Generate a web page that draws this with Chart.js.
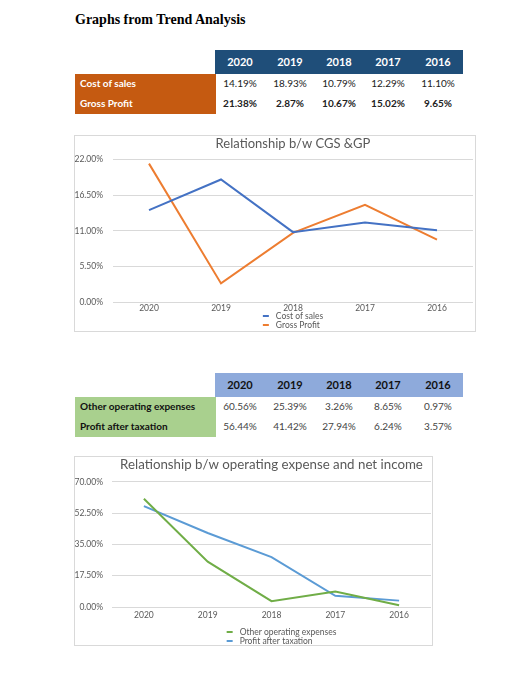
<!DOCTYPE html>
<html>
<head>
<meta charset="utf-8">
<script src="https://cdn.jsdelivr.net/npm/chart.js@4.4.1/dist/chart.umd.min.js"></script>
<style>
body { margin: 0; background: #fff; font-family: Lato, sans-serif; }
#page { position: relative; width: 517px; height: 700px; overflow: hidden; }
.abs { position: absolute; white-space: nowrap; }
.frame { position: absolute; border: 1px solid #d9d9d9; background: #fff; }
.frame canvas { display: block; }
</style>
</head>
<body>
<div id="page">
  <div class="abs" style="left:75px;top:13px;font:bold 14px 'Liberation Serif';line-height:14px;color:#000">Graphs from Trend Analysis</div>
  <div class="frame" style="left:74px;top:135px;width:400px;height:195px">
    <canvas id="chart1" width="400" height="195" style="width:400px;height:195px"></canvas>
  </div>
  <div class="frame" style="left:74px;top:456px;width:357px;height:188px">
    <canvas id="chart2" width="357" height="188" style="width:357px;height:188px"></canvas>
  </div>
</div>
<script>
// data
const years = ['2020', '2019', '2018', '2017', '2016'];
const costOfSales = [14.19, 18.93, 10.79, 12.29, 11.10];
const grossProfit = [21.38, 2.87, 10.67, 15.02, 9.65];
const otherOpExpenses = [60.56, 25.39, 3.26, 8.65, 0.97];
const profitAfterTax = [56.44, 41.42, 27.94, 6.24, 3.57];
const yTicks1 = [0, 5.5, 11, 16.5, 22];
const yTicks2 = [0, 17.5, 35, 52.5, 70];

const page = document.getElementById('page');
const colX = [240, 290, 339, 388, 438];

function addText(txt, cx, cy, style, align) {
  const d = document.createElement('div');
  d.className = 'abs';
  d.textContent = txt;
  d.style.top = (cy - 7) + 'px';
  d.style.height = '14px';
  d.style.lineHeight = '14px';
  if (align === 'left') {
    d.style.left = cx + 'px';
  } else {
    d.style.left = (cx - 30) + 'px';
    d.style.width = '60px';
    d.style.textAlign = 'center';
  }
  Object.assign(d.style, style);
  page.appendChild(d);
}

function addRect(x, y, w, h, color) {
  const d = document.createElement('div');
  d.className = 'abs';
  Object.assign(d.style, { left: x + 'px', top: y + 'px', width: w + 'px', height: h + 'px', background: color });
  page.appendChild(d);
}

function buildTable(t) {
  addRect(215, t.top, 248, 24, t.headBg);
  addRect(75, t.top + 24, 141, 40, t.labelBg);
  years.forEach((y, i) => addText(y, colX[i], t.top + 12, { font: 'bold 11px Lato', color: t.headColor }));
  t.rows.forEach((r, j) => {
    const cy = t.top + 34 + j * 19.5;
    addText(r.label, 80, cy, { font: 'bold 10px Lato', color: t.labelColor }, 'left');
    r.values.forEach((v, i) => addText(v.toFixed(2) + '%', colX[i], cy,
      { font: (r.bold ? 'bold ' : '') + '10px Lato', color: t.valueColor }));
  });
}

buildTable({
  top: 50, headBg: '#1f4e79', headColor: '#fff', labelBg: '#c55a11', labelColor: '#fff', valueColor: '#222',
  rows: [
    { label: 'Cost of sales', values: costOfSales, bold: false },
    { label: 'Gross Profit', values: grossProfit, bold: true }
  ]
});
buildTable({
  top: 373, headBg: '#8eaadb', headColor: '#111', labelBg: '#a9d08e', labelColor: '#111', valueColor: '#444',
  rows: [
    { label: 'Other operating expenses', values: otherOpExpenses, bold: false },
    { label: 'Profit after taxation', values: profitAfterTax, bold: false }
  ]
});

// legend stacked one entry per row under the axis, like the Excel one
const stackedLegend = {
  id: 'stackedLegend',
  afterDraw(chart, args, o) {
    const ctx = chart.ctx, area = chart.chartArea;
    const sets = chart.data.datasets;
    ctx.save();
    ctx.font = '8.5px Lato';
    const w = Math.max(...sets.map(d => ctx.measureText(d.label).width));
    const x0 = (area.left + area.right) / 2 - (13 + w) / 2 + (o.dx || 0);
    ctx.textBaseline = 'middle';
    sets.forEach((d, i) => {
      const y = area.bottom + o.top + i * 9;
      ctx.strokeStyle = d.borderColor;
      ctx.lineWidth = 2;
      ctx.beginPath();
      ctx.moveTo(x0, y);
      ctx.lineTo(x0 + 6, y);
      ctx.stroke();
      ctx.fillStyle = '#595959';
      ctx.fillText(d.label, x0 + 13, y);
    });
    ctx.restore();
  }
};

function makeChart(id, c) {
  return new Chart(document.getElementById(id), {
    type: 'line',
    data: { labels: years, datasets: c.datasets },
    options: {
      responsive: false,
      animation: false,
      layout: { padding: c.padding },
      elements: { point: { radius: 0 }, line: { borderWidth: 2, tension: 0 } },
      plugins: {
        legend: { display: false },
        tooltip: { enabled: false },
        title: {
          display: true, text: c.title, fullSize: false, color: '#595959',
          font: { family: 'Lato', size: c.titleSize, weight: 'normal' },
          padding: { top: 0, bottom: c.titleGap }
        },
        stackedLegend: c.legend
      },
      scales: {
        x: {
          offset: true,
          grid: { display: false, drawTicks: false },
          border: { display: false },
          ticks: { color: '#595959', font: { family: 'Lato', size: 8.5 }, padding: c.xPad, maxRotation: 0 },
          afterFit(s) { s.height = c.xHeight; }
        },
        y: {
          min: 0, max: c.yTicks[c.yTicks.length - 1],
          afterBuildTicks(s) { s.ticks = c.yTicks.map(v => ({ value: v })); },
          grid: { color: '#d9d9d9', drawTicks: false },
          border: { display: false },
          ticks: { color: '#595959', font: { family: 'Lato', size: 8.5 }, padding: c.yPad, callback: v => v.toFixed(2) + '%' },
          afterFit(s) { s.width = c.yWidth; }
        }
      }
    },
    plugins: [stackedLegend]
  });
}

makeChart('chart1', {
  title: 'Relationship b/w CGS &GP', titleSize: 13, titleGap: 8,
  datasets: [
    { label: 'Cost of sales', data: costOfSales, borderColor: '#4472c4', backgroundColor: '#4472c4' },
    { label: 'Gross Profit', data: grossProfit, borderColor: '#ed7d31', backgroundColor: '#ed7d31' }
  ],
  yTicks: yTicks1, yWidth: 38, yPad: 10, xHeight: 12, xPad: 1,
  padding: { left: 0, right: 2, top: 0, bottom: 17 },
  legend: { top: 14 }
});

makeChart('chart2', {
  title: 'Relationship b/w operating expense and net income', titleSize: 13.3, titleGap: 9,
  datasets: [
    { label: 'Other operating expenses', data: otherOpExpenses, borderColor: '#70ad47', backgroundColor: '#70ad47' },
    { label: 'Profit after taxation', data: profitAfterTax, borderColor: '#5b9bd5', backgroundColor: '#5b9bd5' }
  ],
  yTicks: yTicks2, yWidth: 37, yPad: 9, xHeight: 14, xPad: 3,
  padding: { left: 0, right: 1, top: 0, bottom: 24 },
  legend: { top: 25, dx: 10 }
});
</script>
</body>
</html>
